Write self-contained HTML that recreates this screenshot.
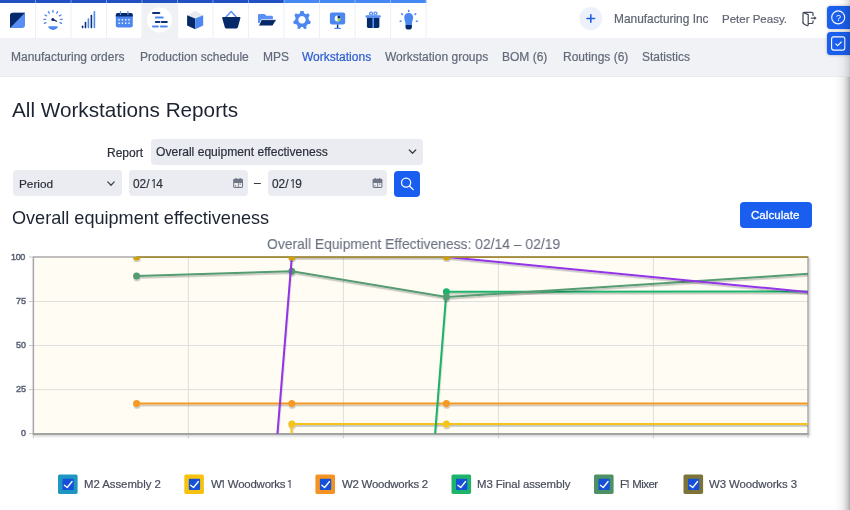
<!DOCTYPE html>
<html><head><meta charset="utf-8">
<style>
*{box-sizing:border-box;margin:0;padding:0}
html,body{width:850px;height:510px;overflow:hidden;background:#fff}
body{position:relative;font-family:"Liberation Sans",sans-serif;color:#1f2430}
.t{position:absolute;line-height:1;white-space:nowrap;-webkit-text-stroke:0.2px currentColor;will-change:transform}
.nav{color:#626978;font-size:12px;top:50.8px}
.box{position:absolute;background:#eaecf1;border-radius:4px}
.btn{position:absolute;background:#1a5ef0;border-radius:4px}
svg{position:absolute;left:0;top:0}
.ax{font-size:9px;font-weight:400;color:#5a6275;width:16px;text-align:right;-webkit-text-stroke:0.45px #5a6275}
.one1{font-family:NanumGothic,"Liberation Sans",sans-serif;margin-left:0.6px;margin-right:-1px}
.one{font-family:NanumGothic,"Liberation Sans",sans-serif;margin-left:-2.2px;margin-right:-1.2px}
.lg{font-size:11.4px;color:#464c5a;top:479.3px}
</style></head><body>

<!-- top bar -->
<div style="position:absolute;left:0;top:38px;width:850px;height:39px;background:#f1f2f5;border-bottom:1px solid #eaebef"></div>
<div style="position:absolute;left:142px;top:3px;width:35.5px;height:35px;background:#f0f1f4"></div>

<svg width="850" height="80" viewBox="0 0 850 80">
  <rect x="0" y="0" width="284" height="3" fill="#2150c2"/>
  <rect x="284" y="0" width="142.5" height="3" fill="#4587f3"/>
  <g fill="#eef0f4">
    <rect x="35" y="3" width="1.1" height="35"/>
    <rect x="70.5" y="3" width="1.1" height="35"/>
    <rect x="106" y="3" width="1.1" height="35"/>
    <rect x="141.5" y="3" width="1.1" height="35"/>
    <rect x="177" y="3" width="1.1" height="35"/>
    <rect x="212.5" y="3" width="1.1" height="35"/>
    <rect x="248" y="3" width="1.1" height="35"/>
    <rect x="283.5" y="3" width="1.1" height="35"/>
    <rect x="319" y="3" width="1.1" height="35"/>
    <rect x="354.5" y="3" width="1.1" height="35"/>
    <rect x="390" y="3" width="1.1" height="35"/>
    <rect x="425.5" y="3" width="1.1" height="35"/>
  </g>
  <g fill="#fff" fill-opacity="0.4"><rect x="35" y="0" width="1" height="3"/><rect x="70.5" y="0" width="1" height="3"/><rect x="106" y="0" width="1" height="3"/><rect x="141.5" y="0" width="1" height="3"/><rect x="177" y="0" width="1" height="3"/><rect x="212.5" y="0" width="1" height="3"/><rect x="248" y="0" width="1" height="3"/><rect x="283.5" y="0" width="1" height="3"/><rect x="319" y="0" width="1" height="3"/><rect x="354.5" y="0" width="1" height="3"/><rect x="390" y="0" width="1" height="3"/><rect x="425.5" y="0" width="1" height="3"/></g>
  <circle cx="159.5" cy="20" r="12.5" fill="#fff"/>
  <!-- icon 1 -->
  <path d="M13 12.8 H25 V25 A3 3 0 0 1 22 28 H10 V15.8 A3 3 0 0 1 13 12.8Z" fill="#5a8ef5"/>
  <path d="M13 12.8 H25 L10 28 V15.8 A3 3 0 0 1 13 12.8Z" fill="#06296a"/>
  <!-- icon 2 gauge -->
  <g stroke="#4d88f0" stroke-width="1.3" stroke-linecap="round">
    <line x1="53" y1="10.4" x2="53" y2="12.2"/>
    <line x1="48.4" y1="11.6" x2="49.3" y2="13.2"/>
    <line x1="57.6" y1="11.6" x2="56.7" y2="13.2"/>
    <line x1="45" y1="15" x2="46.6" y2="15.9"/>
    <line x1="61" y1="15" x2="59.4" y2="15.9"/>
    <line x1="43.8" y1="19.3" x2="45.6" y2="19.3"/>
    <line x1="62.2" y1="19.3" x2="60.4" y2="19.3"/>
    <line x1="44.4" y1="23.4" x2="46" y2="22.6"/>
    <line x1="61.6" y1="23.4" x2="60" y2="22.6"/>
  </g>
  <circle cx="52.8" cy="19.4" r="1.5" fill="#06296a"/>
  <line x1="52.8" y1="19.4" x2="56.6" y2="21.2" stroke="#06296a" stroke-width="1.2" stroke-linecap="round"/>
  <path d="M48.3 26.3 H57.8 A4.75 3.6 0 0 1 48.3 26.3Z" fill="#4d88f0"/>
  <!-- icon 3 bars -->
  <g stroke-width="1.6" stroke-linecap="round">
    <line x1="82.6" y1="26.3" x2="82.6" y2="27.6" stroke="#0b3375"/>
    <line x1="85.5" y1="22.6" x2="85.5" y2="27.6" stroke="#0b3375"/>
    <line x1="88.4" y1="19" x2="88.4" y2="27.6" stroke="#4d88f0"/>
    <line x1="91.4" y1="15.6" x2="91.4" y2="27.6" stroke="#0b3375"/>
    <line x1="94.4" y1="11.8" x2="94.4" y2="27.6" stroke="#4d88f0"/>
  </g>
  <!-- icon 4 calendar -->
  <rect x="115.8" y="12.9" width="17" height="14.5" rx="2.2" fill="#4d88f0"/>
  <path d="M118 12.9 H130.6 A2.2 2.2 0 0 1 132.8 15.1 V16.6 H115.8 V15.1 A2.2 2.2 0 0 1 118 12.9Z" fill="#06296a"/>
  <g stroke="#5a90f5" stroke-width="1.3" stroke-linecap="round"><line x1="120.5" y1="11.6" x2="120.5" y2="14.4"/><line x1="127.9" y1="11.6" x2="127.9" y2="14.4"/></g>
  <g fill="#fff">
    <rect x="118.4" y="19.1" width="1.4" height="1.4"/><rect x="121.7" y="19.1" width="1.4" height="1.4"/><rect x="125" y="19.1" width="1.4" height="1.4"/><rect x="128.3" y="19.1" width="1.4" height="1.4"/>
    <rect x="118.4" y="22.5" width="1.4" height="1.4"/><rect x="121.7" y="22.5" width="1.4" height="1.4"/><rect x="125" y="22.5" width="1.4" height="1.4"/><rect x="128.3" y="22.5" width="1.4" height="1.4"/>
  </g>
  <!-- icon 5 gantt -->
  <g stroke-width="2" stroke-linecap="round">
    <line x1="153" y1="13" x2="159.3" y2="13" stroke="#0b3375"/>
    <line x1="155.8" y1="17.4" x2="162.8" y2="17.4" stroke="#4d88f0"/>
    <line x1="155.8" y1="22" x2="159.5" y2="22" stroke="#0b3375"/>
    <line x1="161.8" y1="22" x2="166.8" y2="22" stroke="#0b3375"/>
    <line x1="153" y1="26.5" x2="157.8" y2="26.5" stroke="#4d88f0"/>
    <line x1="160.8" y1="26.5" x2="166.8" y2="26.5" stroke="#4d88f0"/>
  </g>
  <!-- icon 6 cube -->
  <path d="M195.2 10.8 L203.2 15.2 L195.2 18.6 L187.1 15.2Z" fill="#e6eaf1"/>
  <path d="M187.1 15.2 L195.2 18.6 V29.2 L187.1 25.6Z" fill="#06296a"/>
  <path d="M203.2 15.2 L195.2 18.6 V29.2 L203.2 25.6Z" fill="#4d88f0"/>
  <!-- icon 7 basket -->
  <path d="M225.8 17.2 L231.2 11.6 L236.4 17.2" fill="none" stroke="#5a90f5" stroke-width="1.5" stroke-linejoin="round"/>
  <path d="M223 16.9 H239.6 A0.9 0.9 0 0 1 240.4 18 L237.9 27.3 A1.5 1.5 0 0 1 236.4 28.4 H226.3 A1.5 1.5 0 0 1 224.8 27.3 L222.2 18 A0.9 0.9 0 0 1 223 16.9Z" fill="#06296a"/>
  <!-- icon 8 folder -->
  <path d="M259.2 13.9 H264.6 L266.3 15.8 H271.8 A1.1 1.1 0 0 1 272.9 16.9 V23 H258 V15.1 A1.2 1.2 0 0 1 259.2 13.9Z" fill="#5a90f5"/>
  <path d="M261.4 19.6 H275.8 A0.5 0.5 0 0 1 276.2 20.2 L273 25.3 A1.2 1.2 0 0 1 272 25.9 H259.2 A0.5 0.5 0 0 1 258.8 25.3Z" fill="#06296a" stroke="#fff" stroke-width="0.8"/>
  <!-- icon 9 gear -->
  <g transform="translate(302 19.8)">
    <path id="gear" fill="#4d88f0" fill-rule="evenodd" d="M-1.6,-8.8 L1.6,-8.8 L2.1,-6.5 L4,-5.5 L6.3,-6.6 L7.6,-4.2 L6.4,-2.2 L6.8,0.3 L8.8,1.7 L8.1,4.3 L5.6,4.4 L4.2,6.4 L4.7,8.6 L2.2,9.1 L0.9,7.1 L-0.9,7.1 L-2.2,9.1 L-4.7,8.6 L-4.2,6.4 L-5.6,4.4 L-8.1,4.3 L-8.8,1.7 L-6.8,0.3 L-6.4,-2.2 L-7.6,-4.2 L-6.3,-6.6 L-4,-5.5 L-2.1,-6.5Z M0,-3.7 A3.7,3.7 0 1 0 0.01,-3.7Z"/>
  </g>
  <!-- icon 10 board -->
  <rect x="329.9" y="12.4" width="15.3" height="12.2" rx="2" fill="#4d88f0"/>
  <line x1="337.6" y1="24.5" x2="337.6" y2="28" stroke="#06296a" stroke-width="1.4"/>
  <line x1="335" y1="28.4" x2="340.2" y2="28.4" stroke="#4d88f0" stroke-width="1.4" stroke-linecap="round"/>
  <circle cx="337.6" cy="18.5" r="2.9" fill="#fff"/>
  <path d="M337.6 18.5 V15.6 A2.9 2.9 0 0 1 340.5 18.5Z" fill="#06296a"/>
  <path d="M337.6 18.5 H340.5 A2.9 2.9 0 0 1 337.6 21.4Z" fill="#9ccf3a"/>
  <!-- icon 11 gift -->
  <path d="M366.9 17.4 H379.4 V26.6 A1.4 1.4 0 0 1 378 28 H368.3 A1.4 1.4 0 0 1 366.9 26.6Z" fill="#06296a"/>
  <rect x="365.4" y="15.2" width="15.5" height="2.5" rx="1.1" fill="#5a90f5"/>
  <rect x="372.4" y="17.4" width="1.6" height="10.6" fill="#5a90f5"/>
  <g fill="none" stroke="#5a90f5" stroke-width="1.35"><rect x="369.7" y="12.1" width="2.7" height="2.8" rx="1"/><rect x="374.1" y="12.1" width="2.7" height="2.8" rx="1"/></g>
  <!-- icon 12 bulb -->
  <path d="M408.7 13.1 C411.4 13.1 413.2 15.1 413.2 17.6 C413.2 19.8 411.9 21 411.9 24.9 H405.5 C405.5 21 404.2 19.8 404.2 17.6 C404.2 15.1 406 13.1 408.7 13.1Z" fill="#4d88f0"/>
  <path d="M405.5 24.9 H411.9 V27 A3.2 2.6 0 0 1 405.5 27Z" fill="#06296a"/>
  <g stroke="#4d88f0" stroke-width="1.6" stroke-linecap="round">
    <line x1="408.7" y1="10.5" x2="408.7" y2="11.4"/>
    <line x1="401.7" y1="13.8" x2="402.3" y2="14.4"/>
    <line x1="415.7" y1="13.8" x2="415.1" y2="14.4"/>
    <line x1="400.2" y1="21.3" x2="401" y2="21.3"/>
    <line x1="416.4" y1="21.3" x2="417.2" y2="21.3"/>
  </g>

  <!-- plus button -->
  <circle cx="590.8" cy="18.5" r="11.5" fill="#edf1fb"/>
  <g stroke="#1f5fe0" stroke-width="1.6" stroke-linecap="round"><line x1="587" y1="18.5" x2="594.6" y2="18.5"/><line x1="590.8" y1="14.7" x2="590.8" y2="22.3"/></g>
  <!-- logout -->
  <g fill="none" stroke="#3f4656" stroke-width="1.2" stroke-linecap="round" stroke-linejoin="round">
    <path d="M813 15.4 V13.6 A1.3 1.3 0 0 0 811.7 12.3 H804.3 A1.3 1.3 0 0 0 803 13.6 V22.4"/>
    <path d="M813 20.8 V22.2 A1.3 1.3 0 0 1 811.7 23.5 H808.4"/>
    <path d="M803.6 12.7 L808.2 14.6 V25 A0.8 0.8 0 0 1 807.2 25.7 L804 24 A1.6 1.6 0 0 1 803 22.6"/>
    <path d="M811.3 18.1 H814.6"/>
  </g>
  <path d="M814.2 16.3 L816.7 18.1 L814.2 19.9Z" fill="#3f4656"/>
</svg>

<!-- right tabs -->
<div style="position:absolute;left:826.8px;top:5.9px;width:30px;height:22.9px;background:#1b5fee;border-radius:3.5px;box-shadow:0 0 3px rgba(0,0,0,0.3)"></div>
<div style="position:absolute;left:826.8px;top:32px;width:30px;height:23px;background:#1b5fee;border-radius:3.5px;box-shadow:0 0 3px rgba(0,0,0,0.3)"></div>
<svg width="850" height="80" viewBox="0 0 850 80">
  <circle cx="838.2" cy="17.4" r="6.5" fill="none" stroke="#fff" stroke-width="1.1"/>
  <rect x="831.6" y="36.9" width="13.2" height="13.2" rx="2" fill="none" stroke="#fff" stroke-width="1.1"/>
  <path d="M835.8 44 L837.7 45.7 L841.3 42" fill="none" stroke="#fff" stroke-width="1.1" stroke-linecap="round" stroke-linejoin="round"/>
</svg>
<div class="t" style="left:835.9px;top:13.5px;font-size:9px;color:#fff;-webkit-text-stroke:0">?</div>
<!-- right edge shadow -->
<div style="position:absolute;left:832px;top:0;width:18px;height:77px;background:linear-gradient(to right,rgba(0,0,0,0) 0px,rgba(0,0,0,0.005) 4.5px,rgba(0,0,0,0.02) 8.5px,rgba(0,0,0,0.04) 11.5px,rgba(0,0,0,0.07) 13.5px,rgba(0,0,0,0.1) 15.5px,rgba(0,0,0,0.125) 16.5px,rgba(0,0,0,0.155) 17.5px,rgba(0,0,0,0.17) 18px)"></div>
<div style="position:absolute;left:832px;top:77px;width:18px;height:433px;background:linear-gradient(to right,rgba(0,0,0,0) 0px,rgba(0,0,0,0.01) 4.5px,rgba(0,0,0,0.04) 8.5px,rgba(0,0,0,0.08) 11.5px,rgba(0,0,0,0.14) 13.5px,rgba(0,0,0,0.2) 15.5px,rgba(0,0,0,0.25) 16.5px,rgba(0,0,0,0.31) 17.5px,rgba(0,0,0,0.34) 18px)"></div>



<!-- header texts -->
<div class="t" style="left:614px;top:13.9px;font-size:11.9px;color:#5e6472">Manufacturing Inc</div>
<div class="t" style="left:721.5px;top:13.9px;font-size:11.5px;color:#5e6472">Peter Peasy.</div>

<!-- subnav -->
<div class="t nav" style="left:11px">Manufacturing orders</div>
<div class="t nav" style="left:139.5px">Production schedule</div>
<div class="t nav" style="left:262.5px">MPS</div>
<div class="t nav" style="left:302px;color:#2a5bd1">Workstations</div>
<div class="t nav" style="left:385px">Workstation groups</div>
<div class="t nav" style="left:502px">BOM (6)</div>
<div class="t nav" style="left:562.5px">Routings (6)</div>
<div class="t nav" style="left:642px">Statistics</div>

<!-- title -->
<div class="t" style="left:12px;top:99.5px;font-size:20.7px;color:#1c2331;-webkit-text-stroke:0">All Workstations Reports</div>

<!-- form -->
<div class="t" style="left:106.5px;top:146.9px;font-size:12px;color:#2b303b">Report</div>
<div class="box" style="left:151px;top:138.5px;width:272px;height:26px"></div>
<div class="t" style="left:156.3px;top:146px;font-size:12.1px;color:#2b303b">Overall equipment effectiveness</div>

<div class="box" style="left:13px;top:170.4px;width:109px;height:26px"></div>
<div class="t" style="left:18.5px;top:178.6px;font-size:11.8px;color:#2b303b">Period</div>
<div class="box" style="left:128.5px;top:170.4px;width:119.5px;height:26px"></div>
<div class="t" style="left:133.2px;top:178.6px;font-size:11.9px;color:#2b303b">02/<span class="one1">1</span>4</div>
<div class="t" style="left:254.4px;top:177.3px;font-size:12px;color:#2b303b">–</div>
<div class="box" style="left:268px;top:170.4px;width:119.4px;height:26px"></div>
<div class="t" style="left:272.3px;top:178.6px;font-size:11.9px;color:#2b303b">02/<span class="one1">1</span>9</div>
<div class="btn" style="left:394px;top:170.5px;width:26px;height:26px"></div>

<svg width="850" height="240" viewBox="0 0 850 240">
  <g fill="none" stroke="#3d4352" stroke-width="1.3" stroke-linecap="round" stroke-linejoin="round">
    <path d="M409.3 150 L412.5 153.3 L415.7 150"/>
    <path d="M107.8 181.9 L111 185.2 L114.2 181.9"/>
  </g>
  <rect x="233.2" y="178.8" width="9.8" height="9.2" rx="1.4" fill="#6e7585"/>
  <rect x="235.4" y="177.9" width="1.3" height="1.6" rx="0.5" fill="#6e7585"/><rect x="239.5" y="177.9" width="1.3" height="1.6" rx="0.5" fill="#6e7585"/>
  <rect x="234.2" y="183" width="3.7" height="3.9" fill="#eceef2"/><rect x="238.7" y="183" width="3.3" height="3.9" fill="#eceef2"/>
  <rect x="234.8" y="185.2" width="1.2" height="1.1" fill="#6e7585"/><rect x="239.6" y="183.6" width="1.2" height="1.1" fill="#6e7585"/>
  <rect x="372.6" y="178.8" width="9.8" height="9.2" rx="1.4" fill="#6e7585"/>
  <rect x="374.8" y="177.9" width="1.3" height="1.6" rx="0.5" fill="#6e7585"/><rect x="378.9" y="177.9" width="1.3" height="1.6" rx="0.5" fill="#6e7585"/>
  <rect x="373.6" y="183" width="3.7" height="3.9" fill="#eceef2"/><rect x="378.1" y="183" width="3.3" height="3.9" fill="#eceef2"/>
  <rect x="374.2" y="185.2" width="1.2" height="1.1" fill="#6e7585"/><rect x="379.0" y="183.6" width="1.2" height="1.1" fill="#6e7585"/>
  <circle cx="406.1" cy="182.6" r="4.6" fill="none" stroke="#fff" stroke-width="1.25"/>
  <line x1="409.5" y1="186" x2="413.2" y2="189.6" stroke="#fff" stroke-width="1.3" stroke-linecap="round"/>
</svg>

<!-- heading -->
<div class="t" style="left:12px;top:209.4px;font-size:18.1px;color:#1c2331;-webkit-text-stroke:0">Overall equipment effectiveness</div>
<div class="btn" style="left:739.9px;top:202.2px;width:72.2px;height:26.2px"></div>
<div class="t" style="left:751px;top:208.5px;font-size:11.6px;color:#fff;-webkit-text-stroke:0.3px #fff">Calculate</div>

<!-- chart title -->
<div class="t" style="left:267.3px;top:235.6px;font-size:15px;color:#6b7180;-webkit-text-stroke:0.1px #6b7180;transform:scaleX(0.926);transform-origin:0 0">Overall Equipment Effectiveness: 02/14 – 02/19</div>


<!-- chart -->
<svg width="850" height="510" viewBox="0 0 850 510">
  <defs>
    <clipPath id="pc"><rect x="33.4" y="257" width="774.6" height="176.7"/></clipPath>
    <filter id="sh" x="-10%" y="-10%" width="120%" height="130%">
      <feDropShadow dx="0.4" dy="1.7" stdDeviation="0.75" flood-color="#000" flood-opacity="0.22"/>
    </filter>
    <filter id="blur1" x="-5%" y="-5%" width="110%" height="110%"><feGaussianBlur stdDeviation="0.8"/></filter>
  </defs>
  <rect x="33.4" y="257" width="774.6" height="176.7" fill="none" stroke="#000" stroke-opacity="0.26" stroke-width="1.6" transform="translate(1 1.7)" filter="url(#blur1)"/>
  <rect x="33.4" y="257" width="774.6" height="176.7" fill="#fefcf3"/>
  <g stroke="#dedede" stroke-width="1">
    <line x1="33.4" y1="301.5" x2="808" y2="301.5"/>
    <line x1="33.4" y1="345.5" x2="808" y2="345.5"/>
    <line x1="33.4" y1="389.6" x2="808" y2="389.6"/>
    <line x1="188.4" y1="257" x2="188.4" y2="433.7"/>
    <line x1="343.4" y1="257" x2="343.4" y2="433.7"/>
    <line x1="498.4" y1="257" x2="498.4" y2="433.7"/>
    <line x1="653.4" y1="257" x2="653.4" y2="433.7"/>
  </g>
  <g stroke="#c8c8c8" stroke-width="1">
    <line x1="29" y1="257" x2="33.4" y2="257"/>
    <line x1="29" y1="301.5" x2="33.4" y2="301.5"/>
    <line x1="29" y1="345.5" x2="33.4" y2="345.5"/>
    <line x1="29" y1="389.6" x2="33.4" y2="389.6"/>
    <line x1="29" y1="433.7" x2="33.4" y2="433.7"/>
    <line x1="33.4" y1="433.7" x2="33.4" y2="438.2"/>
    <line x1="188.4" y1="433.7" x2="188.4" y2="438.2"/>
    <line x1="343.4" y1="433.7" x2="343.4" y2="438.2"/>
    <line x1="498.4" y1="433.7" x2="498.4" y2="438.2"/>
    <line x1="653.4" y1="433.7" x2="653.4" y2="438.2"/>
    <line x1="808" y1="433.7" x2="808" y2="438.2"/>
  </g>
  <rect x="33.4" y="257" width="774.6" height="176.7" fill="none" stroke="#a6a6a6" stroke-width="1.4"/>
  <line x1="32.7" y1="434" x2="808.7" y2="434" stroke="#a3a3a3" stroke-width="1.8"/>
  <g clip-path="url(#pc)" fill="none" stroke-width="2" stroke-linejoin="round">
    <g filter="url(#sh)">
      <path d="M136.6 403.5 H812" stroke="#f39a26"/>
      <g fill="#f39a26"><circle cx="136.6" cy="403.5" r="3.5"/><circle cx="291.8" cy="403.5" r="3.5"/><circle cx="446.4" cy="403.5" r="3.5"/></g>
    </g>
    <g filter="url(#sh)">
      <path d="M290.6 460 L291.8 424.1 H812" stroke="#f4c31c"/>
      <g fill="#f4c31c"><circle cx="291.8" cy="424.1" r="3.5"/><circle cx="446.4" cy="424.1" r="3.5"/></g>
    </g>
    <g filter="url(#sh)">
      <path d="M433 460 L446.4 291.8 L812 291.4" stroke="#1fb36c"/>
      <circle cx="446.4" cy="291.8" r="3.5" fill="#1fb36c"/>
    </g>
    <g filter="url(#sh)">
      <path d="M136.6 276.1 L291.8 271.2 L446.4 297.1 L812 273.6" stroke="#559c72"/>
      <g fill="#559c72"><circle cx="136.6" cy="276.1" r="3.5"/><circle cx="291.8" cy="271.2" r="3.5"/><circle cx="446.4" cy="297.1" r="3.5"/></g>
    </g>
    <g filter="url(#sh)">
      <path d="M275.3 460 L291.8 257 L446.4 257 L812 292.4" stroke="#9234e8"/>
    </g>
  </g>
  <path d="M136.6 257.1 H808" stroke="#a48c3a" stroke-width="1.8" fill="none"/>
  <g clip-path="url(#pc)"><g fill="#cfa20f" filter="url(#sh)"><circle cx="136.6" cy="257" r="3.5"/><circle cx="291.8" cy="257" r="3.5"/><circle cx="446.4" cy="257" r="3.5"/></g></g>
  <!-- legend -->
  <g>
    <rect x="58" y="474.4" width="19.6" height="19.5" rx="1.6" fill="#1e96c1"/>
    <rect x="184.3" y="474.4" width="19.6" height="19.5" rx="1.6" fill="#f6c20f"/>
    <rect x="315.4" y="474.4" width="19.6" height="19.5" rx="1.6" fill="#f39325"/>
    <rect x="451.5" y="474.4" width="19.6" height="19.5" rx="1.6" fill="#1db36a"/>
    <rect x="594" y="474.4" width="19.6" height="19.5" rx="1.6" fill="#4c9065"/>
    <rect x="683.5" y="474.4" width="19.6" height="19.5" rx="1.6" fill="#7b7337"/>
  </g>
  <g fill="#1450d8">
    <rect x="62.5" y="478.8" width="11.3" height="11.2" rx="1"/>
    <rect x="188.8" y="478.8" width="11.3" height="11.2" rx="1"/>
    <rect x="319.9" y="478.8" width="11.3" height="11.2" rx="1"/>
    <rect x="456" y="478.8" width="11.3" height="11.2" rx="1"/>
    <rect x="598.5" y="478.8" width="11.3" height="11.2" rx="1"/>
    <rect x="688" y="478.8" width="11.3" height="11.2" rx="1"/>
  </g>
  <g fill="none" stroke="#fff" stroke-width="1.3" stroke-linecap="round" stroke-linejoin="round">
    <path d="M64.4 485.3 L67.2 487.5 L72.1 481.5"/>
    <path d="M190.7 485.3 L193.5 487.5 L198.4 481.5"/>
    <path d="M321.8 485.3 L324.6 487.5 L329.5 481.5"/>
    <path d="M457.9 485.3 L460.7 487.5 L465.6 481.5"/>
    <path d="M600.4 485.3 L603.2 487.5 L608.1 481.5"/>
    <path d="M689.9 485.3 L692.7 487.5 L697.6 481.5"/>
  </g>
</svg>
<div class="t ax" style="top:252.5px;left:9.2px;letter-spacing:-0.35px">100</div>
<div class="t ax" style="top:296.9px;left:9.6px">75</div>
<div class="t ax" style="top:340.9px;left:9.6px">50</div>
<div class="t ax" style="top:385px;left:9.6px">25</div>
<div class="t ax" style="top:429.2px;left:9.6px">0</div>

<div class="t lg" style="left:83.9px;letter-spacing:-0.04px">M2 Assembly 2</div>
<div class="t lg" style="left:211px;letter-spacing:-0.2px">W<span class="one">1</span> Woodworks <span class="one">1</span></div>
<div class="t lg" style="left:341.9px;letter-spacing:-0.22px">W2 Woodworks 2</div>
<div class="t lg" style="left:477.3px;letter-spacing:-0.1px">M3 Final assembly</div>
<div class="t lg" style="left:620.2px;letter-spacing:-0.5px">F<span class="one">1</span> Mixer</div>
<div class="t lg" style="left:709px;letter-spacing:-0.08px">W3 Woodworks 3</div>

</body></html>
